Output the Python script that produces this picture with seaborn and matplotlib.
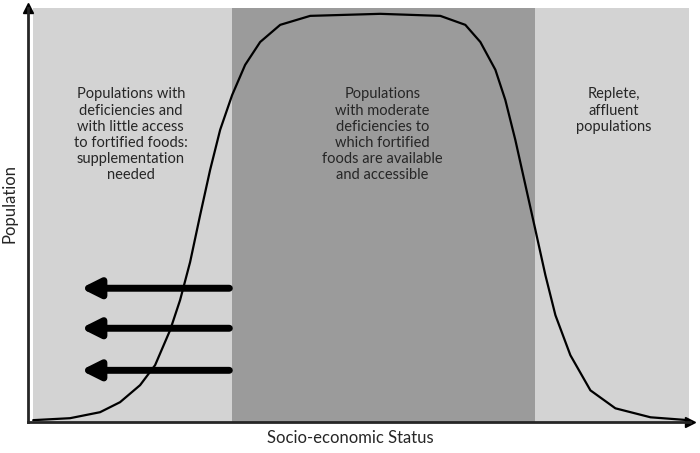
import matplotlib
matplotlib.use("Agg")
import matplotlib.pyplot as plt
import seaborn as sns
import pandas as pd

sns.set_style("white")
plt.rcParams["font.family"] = ["Lato", "DejaVu Sans"]

# curve (x: status 0-100, y: population 0-100)
curve_x = [0, 5.66, 10.28, 13.35, 16.43, 18.74, 21.05, 22.58, 24.12, 25.66, 27.2, 28.74, 30.58,
           32.58, 34.89, 37.97, 42.58, 53.35, 62.58, 66.43, 68.74, 71.05, 72.58, 74.12, 75.66,
           77.2, 78.74, 80.28, 82.58, 85.66, 89.5, 94.9, 100.7]
curve_y = [0, 0.48, 1.95, 4.4, 8.57, 13.47, 22.05, 29.4, 38.7, 50.2, 61.3, 71.1, 79.6,
           87.0, 92.6, 96.8, 99.0, 99.5, 99.0, 96.8, 92.6, 85.8, 78.4, 68.6, 57.6,
           46.6, 35.5, 25.7, 15.9, 7.3, 2.9, 0.7, 0]

regions = [(0, 30.58), (30.58, 77.2), (77.2, 100.8)]
region_colors = ["#d3d3d3", "#9b9b9b", "#d3d3d3"]
region_labels = [
    "Populations with\ndeficiencies and\nwith little access\nto fortified foods:\nsupplementation\nneeded",
    "Populations\nwith moderate\ndeficiencies to\nwhich fortified\nfoods are available\nand accessible",
    "Replete,\naffluent\npopulations",
]
label_x = [15.0, 53.7, 89.3]
arrow_y = [32.3, 22.5, 12.2]

fig = plt.figure(figsize=(7, 4.53), dpi=100)
ax = fig.add_axes([0.04, 0.068, 0.946, 0.915])

for (a, b), c in zip(regions, region_colors):
    ax.axvspan(a, b, color=c, lw=0)

df = pd.DataFrame({"x": curve_x, "y": curve_y})
sns.lineplot(data=df, x="x", y="y", ax=ax, color="black", lw=1.6, sort=False)

for x, t in zip(label_x, region_labels):
    ax.text(x, 81.5, t, ha="center", va="top", fontsize=10.5, linespacing=1.2)

for y in arrow_y:
    ax.annotate("", xy=(6.9, y), xytext=(30.58, y),
                arrowprops=dict(arrowstyle="-|>,head_length=1.1,head_width=0.55", lw=5, color="black"))

ax.set_xlim(-0.8, 101)
ax.set_ylim(-0.5, 101)
ax.set_xticks([])
ax.set_yticks([])
for s in ["top", "right"]:
    ax.spines[s].set_visible(False)
for s in ["left", "bottom"]:
    ax.spines[s].set_linewidth(2)
ax.plot(1, 0, ">k", transform=ax.transAxes, clip_on=False, ms=7)
ax.plot(0, 1, "^k", transform=ax.transAxes, clip_on=False, ms=7)
ax.set_xlabel("")
ax.set_ylabel("")
fig.text(0.5, 0.015, "Socio-economic Status", ha="center", va="bottom", fontsize=12)
fig.text(0.014, 0.55, "Population", rotation=90, ha="center", va="center", fontsize=12)

fig.savefig("out.png", dpi=100)
